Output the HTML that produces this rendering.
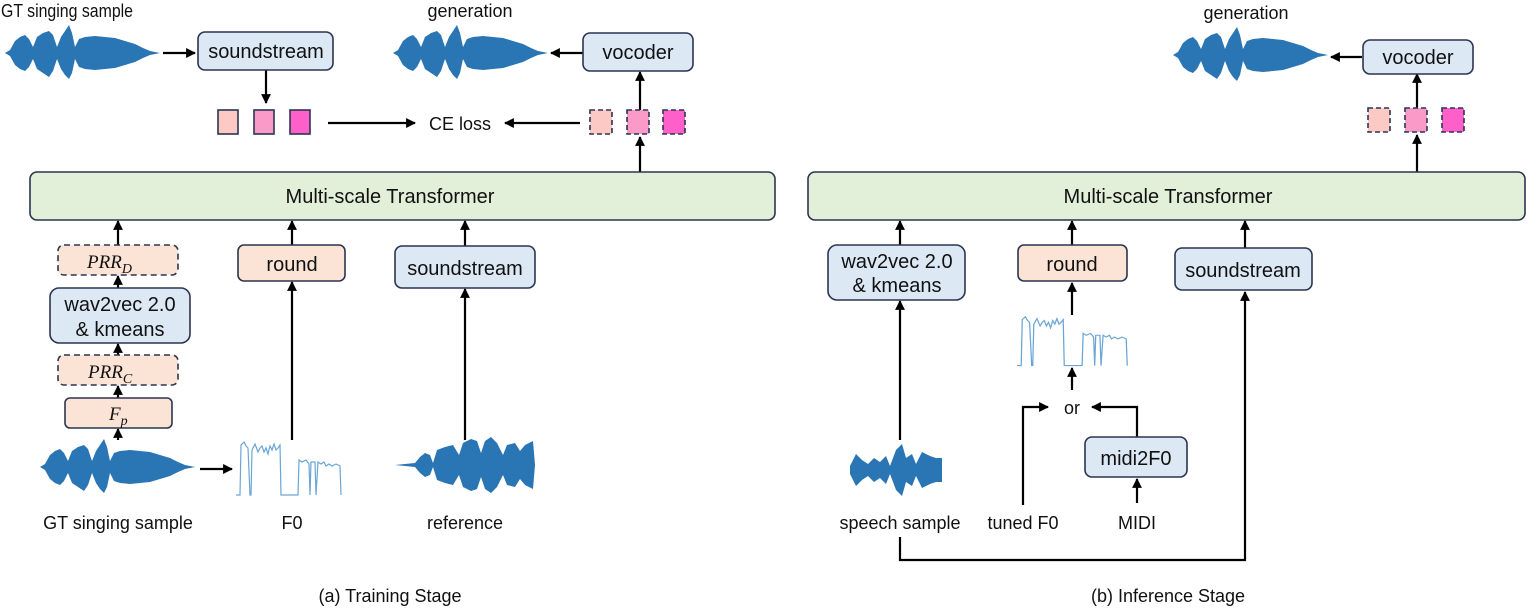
<!DOCTYPE html>
<html><head><meta charset="utf-8"><style>
html,body{margin:0;padding:0;background:#fff;}
svg{display:block;}
text{font-family:"Liberation Sans Narrow","Liberation Sans",sans-serif;fill:#111;}
.m{font-family:"Liberation Serif",serif;font-style:italic;}
</style></head><body>
<svg width="1530" height="610" viewBox="0 0 1530 610" xmlns="http://www.w3.org/2000/svg">
<defs>
<marker id="a" viewBox="0 0 10 10" refX="9" refY="5" markerWidth="4.5" markerHeight="4.5" orient="auto-start-reverse"><path d="M0,0 L10,5 L0,10 Z" fill="#000"/></marker>
<path id="wv" fill="#2a75b3" d="M0,0 L5,-3 L10,-12 L15,-16 L20,-18 L24,-14 L28,-6 L32,-16 L38,-20 L44,-22 L48,-18 L52,-6 L56,-16 L60,-22 L64,-28 L67,-20 L70,-6 L74,-14 L80,-16 L90,-17 L100,-16 L110,-15 L120,-12 L130,-9 L138,-5 L145,-2 L155,0 L145,2 L138,5 L130,9 L120,12 L110,15 L100,16 L90,17 L80,16 L74,14 L70,6 L67,20 L64,26 L60,22 L56,16 L52,6 L48,18 L44,24 L38,20 L32,16 L28,6 L24,14 L20,18 L15,16 L10,12 L5,3 Z"/>
<path id="rf" fill="#2a75b3" d="M0,0 L20,-2 L25,-8 L30,-12 L35,-10 L38,-2 L42,-15 L50,-18 L58,-20 L64,-10 L68,-22 L76,-26 L82,-24 L86,-12 L90,-24 L96,-28 L102,-22 L108,-10 L112,-20 L120,-22 L125,-14 L130,-20 L134,-22 L138,-24 L140,0 L138,24 L134,22 L130,20 L125,14 L120,22 L112,20 L108,10 L102,22 L96,28 L90,24 L86,12 L82,24 L76,26 L68,22 L64,10 L58,20 L50,18 L42,15 L38,2 L35,10 L30,12 L25,8 L20,2 Z"/>
<path id="sp" fill="#2a75b3" d="M0,-4 L6,-16 L12,-10 L18,-6 L24,-12 L30,-8 L36,-14 L40,-4 L46,-20 L52,-26 L56,-12 L62,-16 L66,-6 L72,-18 L80,-14 L86,-12 L92,-12 L92,12 L86,12 L80,14 L72,18 L66,6 L62,16 L56,12 L52,26 L46,20 L40,4 L36,14 L30,8 L24,12 L18,6 L12,10 L6,16 L0,4 Z"/>
<polyline id="f0" fill="none" stroke="#6aa6d6" stroke-width="1.2" points="0,55 4,55 5,5 8,2 10,6 12,8 14,55 15,55 16,10 19,4 22,12 24,8 26,6 28,12 30,8 32,14 34,6 36,10 38,4 40,10 42,8 44,5 45,55 62,55 63,20 66,22 70,20 73,24 74,55 75,22 79,22 80,55 82,22 85,24 88,22 90,26 93,24 96,26 100,24 104,26 105,55"/>
</defs>
<g stroke="#000" stroke-width="2.2" fill="none" marker-end="url(#a)">
<line x1="163" y1="53" x2="195" y2="53"/>
<line x1="266" y1="70" x2="266" y2="103"/>
<line x1="328" y1="123" x2="415" y2="123"/>
<line x1="580" y1="123" x2="505" y2="123"/>
<line x1="640" y1="110" x2="640" y2="72"/>
<line x1="583" y1="53" x2="551" y2="53"/>
<line x1="640" y1="172" x2="640" y2="137"/>
<line x1="118" y1="245" x2="118" y2="221"/>
<line x1="118" y1="288" x2="118" y2="276"/>
<line x1="118" y1="355" x2="118" y2="344"/>
<line x1="118" y1="398" x2="118" y2="386"/>
<line x1="118" y1="440" x2="118" y2="429"/>
<line x1="292" y1="245" x2="292" y2="221"/>
<line x1="292" y1="440" x2="292" y2="282"/>
<line x1="465" y1="246" x2="465" y2="221"/>
<line x1="465" y1="440" x2="465" y2="289"/>
<line x1="200" y1="469" x2="232" y2="469"/>
<line x1="1362" y1="57" x2="1331" y2="57"/>
<line x1="1417" y1="108" x2="1417" y2="74"/>
<line x1="1417" y1="172" x2="1417" y2="135"/>
<line x1="900" y1="245" x2="900" y2="221"/>
<line x1="900" y1="440" x2="900" y2="301"/>
<line x1="1072" y1="245" x2="1072" y2="221"/>
<line x1="1072" y1="315" x2="1072" y2="283"/>
<line x1="1072" y1="390" x2="1072" y2="368"/>
<polyline points="1023,505 1023,407 1048,407"/>
<polyline points="1137,437 1137,407 1092,407"/>
<line x1="1137" y1="503" x2="1137" y2="479"/>
<line x1="1245" y1="248" x2="1245" y2="221"/>
<polyline points="900,537 900,560 1245,560 1245,292"/>
</g>
<g stroke="#2b3550" stroke-width="1.6">
<rect x="198" y="32" width="135" height="38" rx="7" fill="#dde8f5"/>
<rect x="583" y="33" width="110" height="38" rx="7" fill="#dde8f5"/>
<rect x="30" y="172" width="745" height="48" rx="7" fill="#e2efd9"/>
<rect x="58" y="245" width="120" height="30" rx="6" fill="#fbe4d6" stroke-dasharray="6,4"/>
<rect x="50" y="288" width="140" height="55" rx="9" fill="#dde8f5"/>
<rect x="58" y="355" width="120" height="30" rx="6" fill="#fbe4d6" stroke-dasharray="6,4"/>
<rect x="65" y="398" width="107" height="30" rx="5" fill="#fbe4d6"/>
<rect x="238" y="245" width="107" height="36" rx="6" fill="#fbe4d6"/>
<rect x="395" y="246" width="140" height="42" rx="7" fill="#dde8f5"/>
<rect x="218" y="110" width="20" height="24" fill="#fcc9c4"/>
<rect x="254" y="110" width="20" height="24" fill="#f99ac8"/>
<rect x="290" y="110" width="20" height="24" fill="#ff5fc8"/>
<g stroke-dasharray="5,3">
<rect x="590" y="110" width="22" height="24" fill="#fcc9c4"/>
<rect x="627" y="110" width="22" height="24" fill="#f99ac8"/>
<rect x="663" y="110" width="22" height="24" fill="#ff5fc8"/>
<rect x="1368" y="108" width="22" height="24" fill="#fcc9c4"/>
<rect x="1405" y="108" width="22" height="24" fill="#f99ac8"/>
<rect x="1442" y="108" width="22" height="24" fill="#ff5fc8"/>
</g>
<rect x="1363" y="40" width="110" height="34" rx="7" fill="#dde8f5"/>
<rect x="808" y="172" width="717" height="48" rx="7" fill="#e2efd9"/>
<rect x="828" y="245" width="137" height="55" rx="9" fill="#dde8f5"/>
<rect x="1018" y="245" width="109" height="36" rx="6" fill="#fbe4d6"/>
<rect x="1175" y="248" width="137" height="42" rx="7" fill="#dde8f5"/>
<rect x="1085" y="437" width="102" height="40" rx="7" fill="#dde8f5"/>
</g>
<use href="#wv" x="5" y="53"/>
<use href="#wv" x="393" y="53"/>
<use href="#wv" x="1173" y="55"/>
<use href="#wv" x="40" y="467"/>
<use href="#rf" x="395" y="465"/>
<use href="#sp" x="850" y="470"/>
<use href="#f0" x="236" y="440"/>
<use href="#f0" x="1017" y="315" transform="translate(1017,315) scale(1.05,0.92) translate(-1017,-315)"/>
<g font-size="18" text-anchor="middle">
<text x="1" y="17" text-anchor="start" textLength="132" lengthAdjust="spacingAndGlyphs">GT singing sample</text>
<text x="470" y="17">generation</text>
<text x="1246" y="19">generation</text>
<text x="460" y="130">CE loss</text>
<text x="118" y="529">GT singing sample</text>
<text x="292" y="529">F0</text>
<text x="465" y="529">reference</text>
<text x="900" y="529">speech sample</text>
<text x="1023" y="529">tuned F0</text>
<text x="1137" y="529">MIDI</text>
<text x="1072" y="414">or</text>
<text x="390" y="602">(a) Training Stage</text>
<text x="1168" y="602">(b) Inference Stage</text>
</g>
<g font-size="20" text-anchor="middle">
<text x="266" y="58">soundstream</text>
<text x="638" y="59">vocoder</text>
<text x="1418" y="64">vocoder</text>
<text x="390" y="203">Multi-scale Transformer</text>
<text x="1168" y="203">Multi-scale Transformer</text>
<text x="120" y="311">wav2vec 2.0</text>
<text x="120" y="336">&amp; kmeans</text>
<text x="292" y="271">round</text>
<text x="465" y="275">soundstream</text>
<text x="897" y="268">wav2vec 2.0</text>
<text x="897" y="292">&amp; kmeans</text>
<text x="1072" y="271">round</text>
<text x="1243" y="277">soundstream</text>
<text x="1136" y="465">midi2F0</text>
</g>
<g font-size="19" class="m">
<text x="87" y="268" class="m">PRR<tspan font-size="14" dy="5">D</tspan></text>
<text x="88" y="378" class="m">PRR<tspan font-size="14" dy="5">C</tspan></text>
<text x="109" y="420" class="m">F<tspan font-size="14" dy="5">p</tspan></text>
</g>
</svg>
</body></html>
